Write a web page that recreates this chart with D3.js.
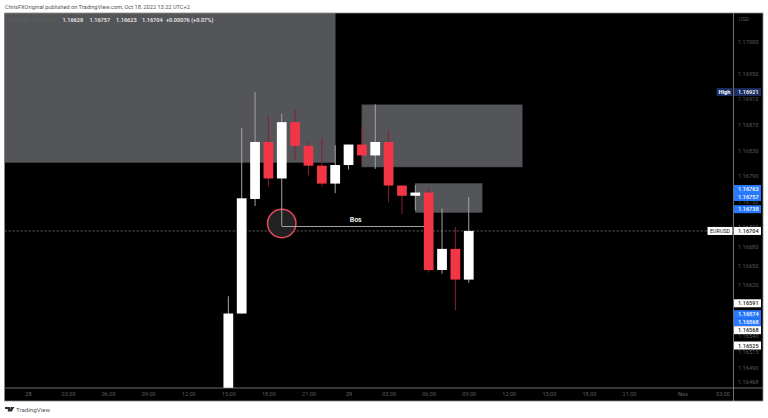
<!DOCTYPE html>
<html>
<head>
<meta charset="utf-8">
<script src="https://cdn.jsdelivr.net/npm/d3@7/dist/d3.min.js"></script>
<style>
  html, body { margin: 0; padding: 0; background: #fff; overflow: hidden; }
  text { font-family: Roboto, "Open Sans", sans-serif; }
</style>
</head>
<body>
<script>
// Candle data, hours counted from the "28" tick
const hours = [15, 16, 17, 18, 19, 20, 21, 22, 23, 24, 25, 26, 27, 28, 29, 30, 31, 32, 33];
const opens = [1.16440, 1.16575, 1.16754, 1.16843, 1.16786, 1.16874, 1.16837, 1.16806, 1.16778, 1.16807, 1.16839, 1.16822, 1.16843, 1.16775, 1.16759, 1.16764, 1.16643, 1.16676, 1.16628];
const highs = [1.16602, 1.16865, 1.16921, 1.16884, 1.16887, 1.16893, 1.16843, 1.16849, 1.16838, 1.16839, 1.16868, 1.16902, 1.16861, 1.16775, 1.16776, 1.16772, 1.16739, 1.16710, 1.16757];
const lows = [1.16430, 1.16575, 1.16743, 1.16773, 1.16712, 1.16815, 1.16791, 1.16774, 1.16763, 1.16800, 1.16809, 1.16801, 1.16749, 1.16730, 1.16736, 1.16639, 1.16637, 1.16580, 1.16623];
const closes = [1.16575, 1.16755, 1.16843, 1.16786, 1.16874, 1.16837, 1.16806, 1.16778, 1.16807, 1.16839, 1.16822, 1.16843, 1.16775, 1.16759, 1.16764, 1.16643, 1.16676, 1.16628, 1.16704];

// Supply / demand zones: start hour, end hour, top price, bottom price
const zoneStarts = [-3, 25, 29];
const zoneEnds = [23, 37, 34];
const zoneTops = [1.17060, 1.16901, 1.16778];
const zoneBottoms = [1.16811, 1.16804, 1.16733];

// Axis ticks
const priceTicks = [1.17000, 1.16950, 1.16910, 1.16870, 1.16830, 1.16790, 1.16750, 1.16710, 1.16680, 1.16650, 1.16620, 1.16540, 1.16515, 1.16490, 1.16468];
const timeTicks = [0, 3, 6, 9, 12, 15, 18, 21, 24, 27, 30, 33, 36, 39, 42, 45, 49, 52];
const timeLabels = ["28", "03:00", "06:00", "09:00", "12:00", "15:00", "18:00", "21:00", "29", "03:00", "06:00", "09:00", "12:00", "15:00", "18:00", "21:00", "Nov", "03:00"];

// Price tags on the right axis, listed in placing order
const tagPrices = [1.16757, 1.16763, 1.16738, 1.16591, 1.16574, 1.16568, 1.16568, 1.16525];
const tagKinds = ["blue", "blue", "blue", "white", "blue", "blue", "white", "white"];

// Legend values
const legendValues = ["1.16628", "1.16757", "1.16623", "1.16704", "+0.00076 (+0.07%)"];

const lastPrice = 1.16704;
const highPrice = 1.16921;
const bosPrice = 1.16711;
const bosStart = 19;
const bosEnd = 30;

const width = 768;
const height = 418;
const plot = { left: 4.5, right: 733.5, top: 13, bottom: 388 };
const frame = { right: 763, bottom: 401 };
const labelSize = 5.6;

const svg = d3.select("body")
  .append("svg")
  .attr("width", width)
  .attr("height", height)
  .style("display", "block");

const x = d3.scaleLinear().domain([0, 52]).range([28, 722.5]);
const y = d3.scaleLinear().domain([1.17000, 1.16468]).range([41.5, 382]);
const candleWidth = (x(1) - x(0)) * 0.73;

// Chart background
svg.append("rect")
  .attr("x", plot.left)
  .attr("y", plot.top)
  .attr("width", frame.right - plot.left)
  .attr("height", frame.bottom - plot.top)
  .attr("fill", "#000");

svg.append("clipPath")
  .attr("id", "plot-clip")
  .append("rect")
  .attr("x", plot.left)
  .attr("y", plot.top)
  .attr("width", plot.right - plot.left)
  .attr("height", plot.bottom - plot.top);

const chart = svg.append("g").attr("clip-path", "url(#plot-clip)");

// Zones
chart.selectAll("rect.zone")
  .data(zoneStarts)
  .enter()
  .append("rect")
  .attr("class", "zone")
  .attr("x", (d, i) => x(d))
  .attr("y", (d, i) => y(zoneTops[i]))
  .attr("width", (d, i) => x(zoneEnds[i]) - x(d))
  .attr("height", (d, i) => y(zoneBottoms[i]) - y(zoneTops[i]))
  .attr("fill", "#545559")
  .attr("stroke", "#48494c")
  .attr("stroke-width", 0.6);

// Last price line
chart.append("line")
  .attr("x1", plot.left)
  .attr("x2", plot.right)
  .attr("y1", y(lastPrice))
  .attr("y2", y(lastPrice))
  .attr("stroke", "#777")
  .attr("stroke-width", 0.7)
  .attr("stroke-dasharray", "2.5,1.5");

// Circle around the swing low
chart.append("circle")
  .attr("cx", x(bosStart))
  .attr("cy", y(bosPrice) - 3)
  .attr("r", 14.2)
  .attr("fill", "#222")
  .attr("stroke", "#e9475a")
  .attr("stroke-width", 1.5);

// Candles
const isUp = i => closes[i] >= opens[i];

chart.selectAll("line.wick")
  .data(hours)
  .enter()
  .append("line")
  .attr("class", "wick")
  .attr("x1", d => x(d))
  .attr("x2", d => x(d))
  .attr("y1", (d, i) => y(highs[i]))
  .attr("y2", (d, i) => y(lows[i]))
  .attr("stroke", (d, i) => isUp(i) ? "#a3a3a3" : "#8c1f30")
  .attr("stroke-width", 1);

// Break of structure line
chart.append("line")
  .attr("x1", x(bosStart))
  .attr("x2", x(bosEnd))
  .attr("y1", y(bosPrice))
  .attr("y2", y(bosPrice))
  .attr("stroke", "#a3a3a3")
  .attr("stroke-width", 1.1);

chart.selectAll("rect.body")
  .data(hours)
  .enter()
  .append("rect")
  .attr("class", "body")
  .attr("x", d => x(d) - candleWidth / 2)
  .attr("y", (d, i) => y(Math.max(opens[i], closes[i])))
  .attr("width", candleWidth)
  .attr("height", (d, i) => Math.abs(y(opens[i]) - y(closes[i])))
  .attr("fill", (d, i) => isUp(i) ? "#ffffff" : "#f23645");

chart.append("text")
  .attr("x", x((bosStart + bosEnd) / 2) + 0.5)
  .attr("y", y(bosPrice) - 4.5)
  .attr("text-anchor", "middle")
  .attr("fill", "#e8e8e8")
  .attr("font-size", 7)
  .attr("font-weight", 700)
  .text("Bos");

// Price axis
const yAxis = d3.axisRight(y)
  .tickValues(priceTicks)
  .tickSize(0)
  .tickPadding(4.5)
  .tickFormat(d3.format(".5f"));

svg.append("g")
  .attr("transform", `translate(${plot.right}, 0)`)
  .call(yAxis)
  .call(g => g.select(".domain").remove())
  .call(g => g.selectAll("text")
    .attr("fill", "#5a5a5a")
    .attr("font-size", labelSize)
    .style("font-family", "Roboto, sans-serif"));

svg.append("text")
  .attr("x", plot.right + 5)
  .attr("y", 21)
  .attr("fill", "#5a5a5a")
  .attr("font-size", labelSize)
  .text("USD");

// Time axis
const xAxis = d3.axisBottom(x)
  .tickValues(timeTicks)
  .tickSize(0)
  .tickPadding(4.5)
  .tickFormat((d, i) => timeLabels[i]);

svg.append("g")
  .attr("transform", `translate(0, ${plot.bottom})`)
  .call(xAxis)
  .call(g => g.select(".domain").remove())
  .call(g => g.selectAll("text")
    .attr("fill", (d, i) => /:/.test(timeLabels[i]) ? "#5a5a5a" : "#6a6a6a")
    .attr("font-size", labelSize)
    .style("font-family", "Roboto, sans-serif"));

// Frame lines
const frameLines = [
  [plot.left, plot.top, frame.right, plot.top],
  [plot.left, plot.top, plot.left, frame.bottom],
  [frame.right, plot.top, frame.right, frame.bottom],
  [plot.left, frame.bottom, frame.right, frame.bottom],
  [plot.left, plot.bottom, frame.right, plot.bottom],
  [plot.right, plot.top, plot.right, frame.bottom]
];

svg.selectAll("line.frame")
  .data(frameLines)
  .enter()
  .append("line")
  .attr("class", "frame")
  .attr("x1", d => d[0])
  .attr("y1", d => d[1])
  .attr("x2", d => d[2])
  .attr("y2", d => d[3])
  .attr("stroke", "#8a8a8a")
  .attr("stroke-width", 0.8);

// Price tags, pushed apart when they would overlap
const tagHeight = 8;
const placed = [];
const tags = tagPrices.map((price, i) => {
  const natural = y(price);
  let pos = natural;
  let clash = placed.find(p => Math.abs(p - pos) < tagHeight - 0.01);
  if (clash !== undefined) {
    // keep pushing the same way until the tag is clear
    const dir = natural < clash ? -1 : 1;
    while (clash !== undefined) {
      pos = clash + dir * tagHeight;
      clash = placed.find(p => Math.abs(p - pos) < tagHeight - 0.01);
    }
  }
  placed.push(pos);
  return { price, kind: tagKinds[i], pos };
});

const tagLeft = plot.right + 0.5;
const tagWidth = 27;

function drawTag(pos, fill, color, label) {
  svg.append("rect")
    .attr("x", tagLeft)
    .attr("y", pos - tagHeight / 2)
    .attr("width", tagWidth)
    .attr("height", tagHeight)
    .attr("fill", fill);
  svg.append("text")
    .attr("x", plot.right + 4.5)
    .attr("y", pos + 2)
    .attr("fill", color)
    .attr("font-size", labelSize)
    .attr("font-weight", 500)
    .text(label);
}

tags.forEach(t => {
  if (t.kind === "blue") drawTag(t.pos, "#2979ff", "#fff", t.price.toFixed(5));
  else drawTag(t.pos, "#fff", "#222", t.price.toFixed(5));
});

// Last price tag with symbol name
svg.append("rect")
  .attr("x", 707.5)
  .attr("y", y(lastPrice) - 4)
  .attr("width", 25)
  .attr("height", tagHeight)
  .attr("fill", "#fff");
svg.append("text")
  .attr("x", 710)
  .attr("y", y(lastPrice) + 2)
  .attr("fill", "#222")
  .attr("font-size", 5.4)
  .text("EURUSD");
drawTag(y(lastPrice), "#fff", "#222", lastPrice.toFixed(5));

// High tag
svg.append("rect")
  .attr("x", 716.5)
  .attr("y", y(highPrice) - 4)
  .attr("width", 16)
  .attr("height", tagHeight)
  .attr("fill", "#1b2f63");
svg.append("text")
  .attr("x", 724.5)
  .attr("y", y(highPrice) + 2)
  .attr("text-anchor", "middle")
  .attr("fill", "#fff")
  .attr("font-size", labelSize)
  .attr("font-weight", 700)
  .text("High");
drawTag(y(highPrice), "#1b2f63", "#fff", highPrice.toFixed(5));

// Legend
svg.append("text")
  .attr("x", 9)
  .attr("y", 22)
  .attr("fill", "#5f6064")
  .attr("font-size", labelSize)
  .text("EURUSD, 1h, FXCM");

const legendX = [62.5, 89.5, 116, 142, 166];
svg.selectAll("text.legend")
  .data(legendValues)
  .enter()
  .append("text")
  .attr("class", "legend")
  .attr("x", (d, i) => legendX[i])
  .attr("y", 22)
  .attr("fill", "#f2f2f2")
  .attr("font-size", labelSize)
  .attr("font-weight", 500)
  .text(d => d);

// Header and footer
svg.append("text")
  .attr("x", 5)
  .attr("y", 9)
  .attr("fill", "#555")
  .attr("font-size", 5.65)
  .text("ChrisFXOriginal published on TradingView.com, Oct 18, 2022 13:22 UTC+2");

svg.append("path")
  .attr("d", "M5,407h5.2v4.6h-2.4v-2.5h-2.8z M10.8,407h3.6l-2.6,4.6h-2z")
  .attr("fill", "#2a2e39");

svg.append("text")
  .attr("x", 16)
  .attr("y", 412)
  .attr("fill", "#555")
  .attr("font-size", 6.2)
  .text("TradingView");
</script>
</body>
</html>
